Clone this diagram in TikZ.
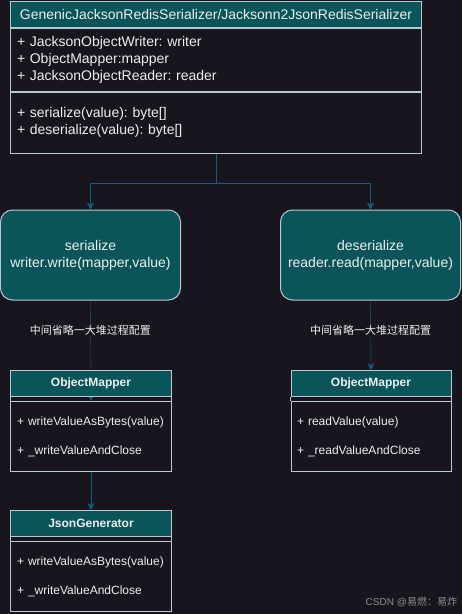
\documentclass[tikz,border=0pt]{standalone}
\usepackage{fontspec}
\setmainfont{Liberation Sans}
\newfontfamily\cjk{Noto Sans CJK SC}
\usetikzlibrary{positioning,arrows.meta,backgrounds}
\definecolor{bgdark}{HTML}{18151E}
\definecolor{boxteal}{HTML}{0A5559}
\definecolor{edge}{HTML}{BAC8D3}
\definecolor{wire}{HTML}{0F5F7E}
\definecolor{fg}{HTML}{EEEEEE}
\definecolor{wmgrey}{HTML}{8E8E8E}
\frenchspacing
\begin{document}
\begin{tikzpicture}[x=1pt,y=-1pt,line width=1pt,
    hdr/.style={draw=edge,fill=boxteal,text=fg,inner sep=0pt,minimum height=26pt},
    body/.style={draw=edge,fill=bgdark,text=fg,inner xsep=6pt,inner ysep=0pt,align=left},
    rbox/.style={draw=edge,fill=boxteal,text=fg,rounded corners=12pt,minimum width=180pt,
      minimum height=90pt,align=center,font=\fontsize{14}{17}\selectfont},
    link/.style={draw=wire,-{Stealth[length=7pt,width=7pt]}},
    note/.style={fill=bgdark,text=fg,inner sep=1pt,font=\cjk\fontsize{11}{13}\selectfont}]
    % Class
    \node[hdr,anchor=north west,minimum width=410pt,font=\fontsize{14}{17}\selectfont]
      (cls) at (10,0.5) {GenenicJacksonRedisSerializer/Jacksonn2JsonRedisSerializer};
    \node[body,below=0pt of cls,text width=398pt,minimum height=63pt,font=\fontsize{14}{17}\selectfont]
      (attr) {+ JacksonObjectWriter: writer\\+ ObjectMapper:mapper\\+ JacksonObjectReader: reader};
    \node[body,below=0pt of attr,text width=398pt,minimum height=61pt,font=\fontsize{14}{17}\selectfont]
      (meth) {+ serialize(value): byte[]\\+ deserialize(value): byte[]};
    % Calls
    \node[rbox] (ser) at (90,255) {serialize\\writer.write(mapper,value)};
    \node[rbox] (deser) at (370,255) {deserialize\\reader.read(mapper,value)};
    % Mappers
    \node[hdr,anchor=north west,minimum width=160pt,font=\bfseries\fontsize{12}{14}\selectfont]
      (om1) at (10,370) {ObjectMapper};
    \node[body,below=4pt of om1,text width=148pt,minimum height=70pt,font=\fontsize{12}{29}\selectfont]
      (om1b) {+ writeValueAsBytes(value)\\+ \_writeValueAndClose};
    \node[hdr,anchor=north west,minimum width=160pt,font=\bfseries\fontsize{12}{14}\selectfont]
      (om2) at (290,370) {ObjectMapper};
    \node[body,below=4pt of om2,text width=148pt,minimum height=70pt,font=\fontsize{12}{29}\selectfont]
      (om2b) {+ readValue(value)\\+ \_readValueAndClose};
    \node[hdr,anchor=north west,minimum width=160pt,font=\bfseries\fontsize{12}{14}\selectfont]
      (jg) at (10,510) {JsonGenerator};
    \node[body,below=4pt of jg,text width=148pt,minimum height=70pt,font=\fontsize{12}{29}\selectfont]
      (jgb) {+ writeValueAsBytes(value)\\+ \_writeValueAndClose};
    \foreach \h/\b in {om1/om1b,om2/om2b,jg/jgb} {
      \draw[edge] (\h.south west) -- (\b.north west);
      \draw[edge] (\h.south east) -- (\b.north east);
    }
    % Links
    \begin{scope}[on background layer]
      \fill[bgdark] (0,0) rectangle (461,614);
      \draw[link] (meth.south) -- ++(0,30) -| (ser.north);
      \draw[link] (meth.south) -- ++(0,30) -| (deser.north);
      \draw[link] (ser.south) -- (om1b.north);
      \draw[link] (deser.south) -- (om2.north);
      \draw[link] (om1b.south) -- (jg.north);
    \end{scope}
    % Labels
    \node[note] (n1) at (90,330) {中间省略一大堆过程配置};
    \node[note] (n2) at (370,330) {中间省略一大堆过程配置};
    \node[anchor=east,text=wmgrey,inner sep=0pt,font=\fontsize{10}{12}\selectfont]
      (wm) at (457,602) {CSDN @{\cjk 易燃：易炸}};
\end{tikzpicture}
\end{document}
